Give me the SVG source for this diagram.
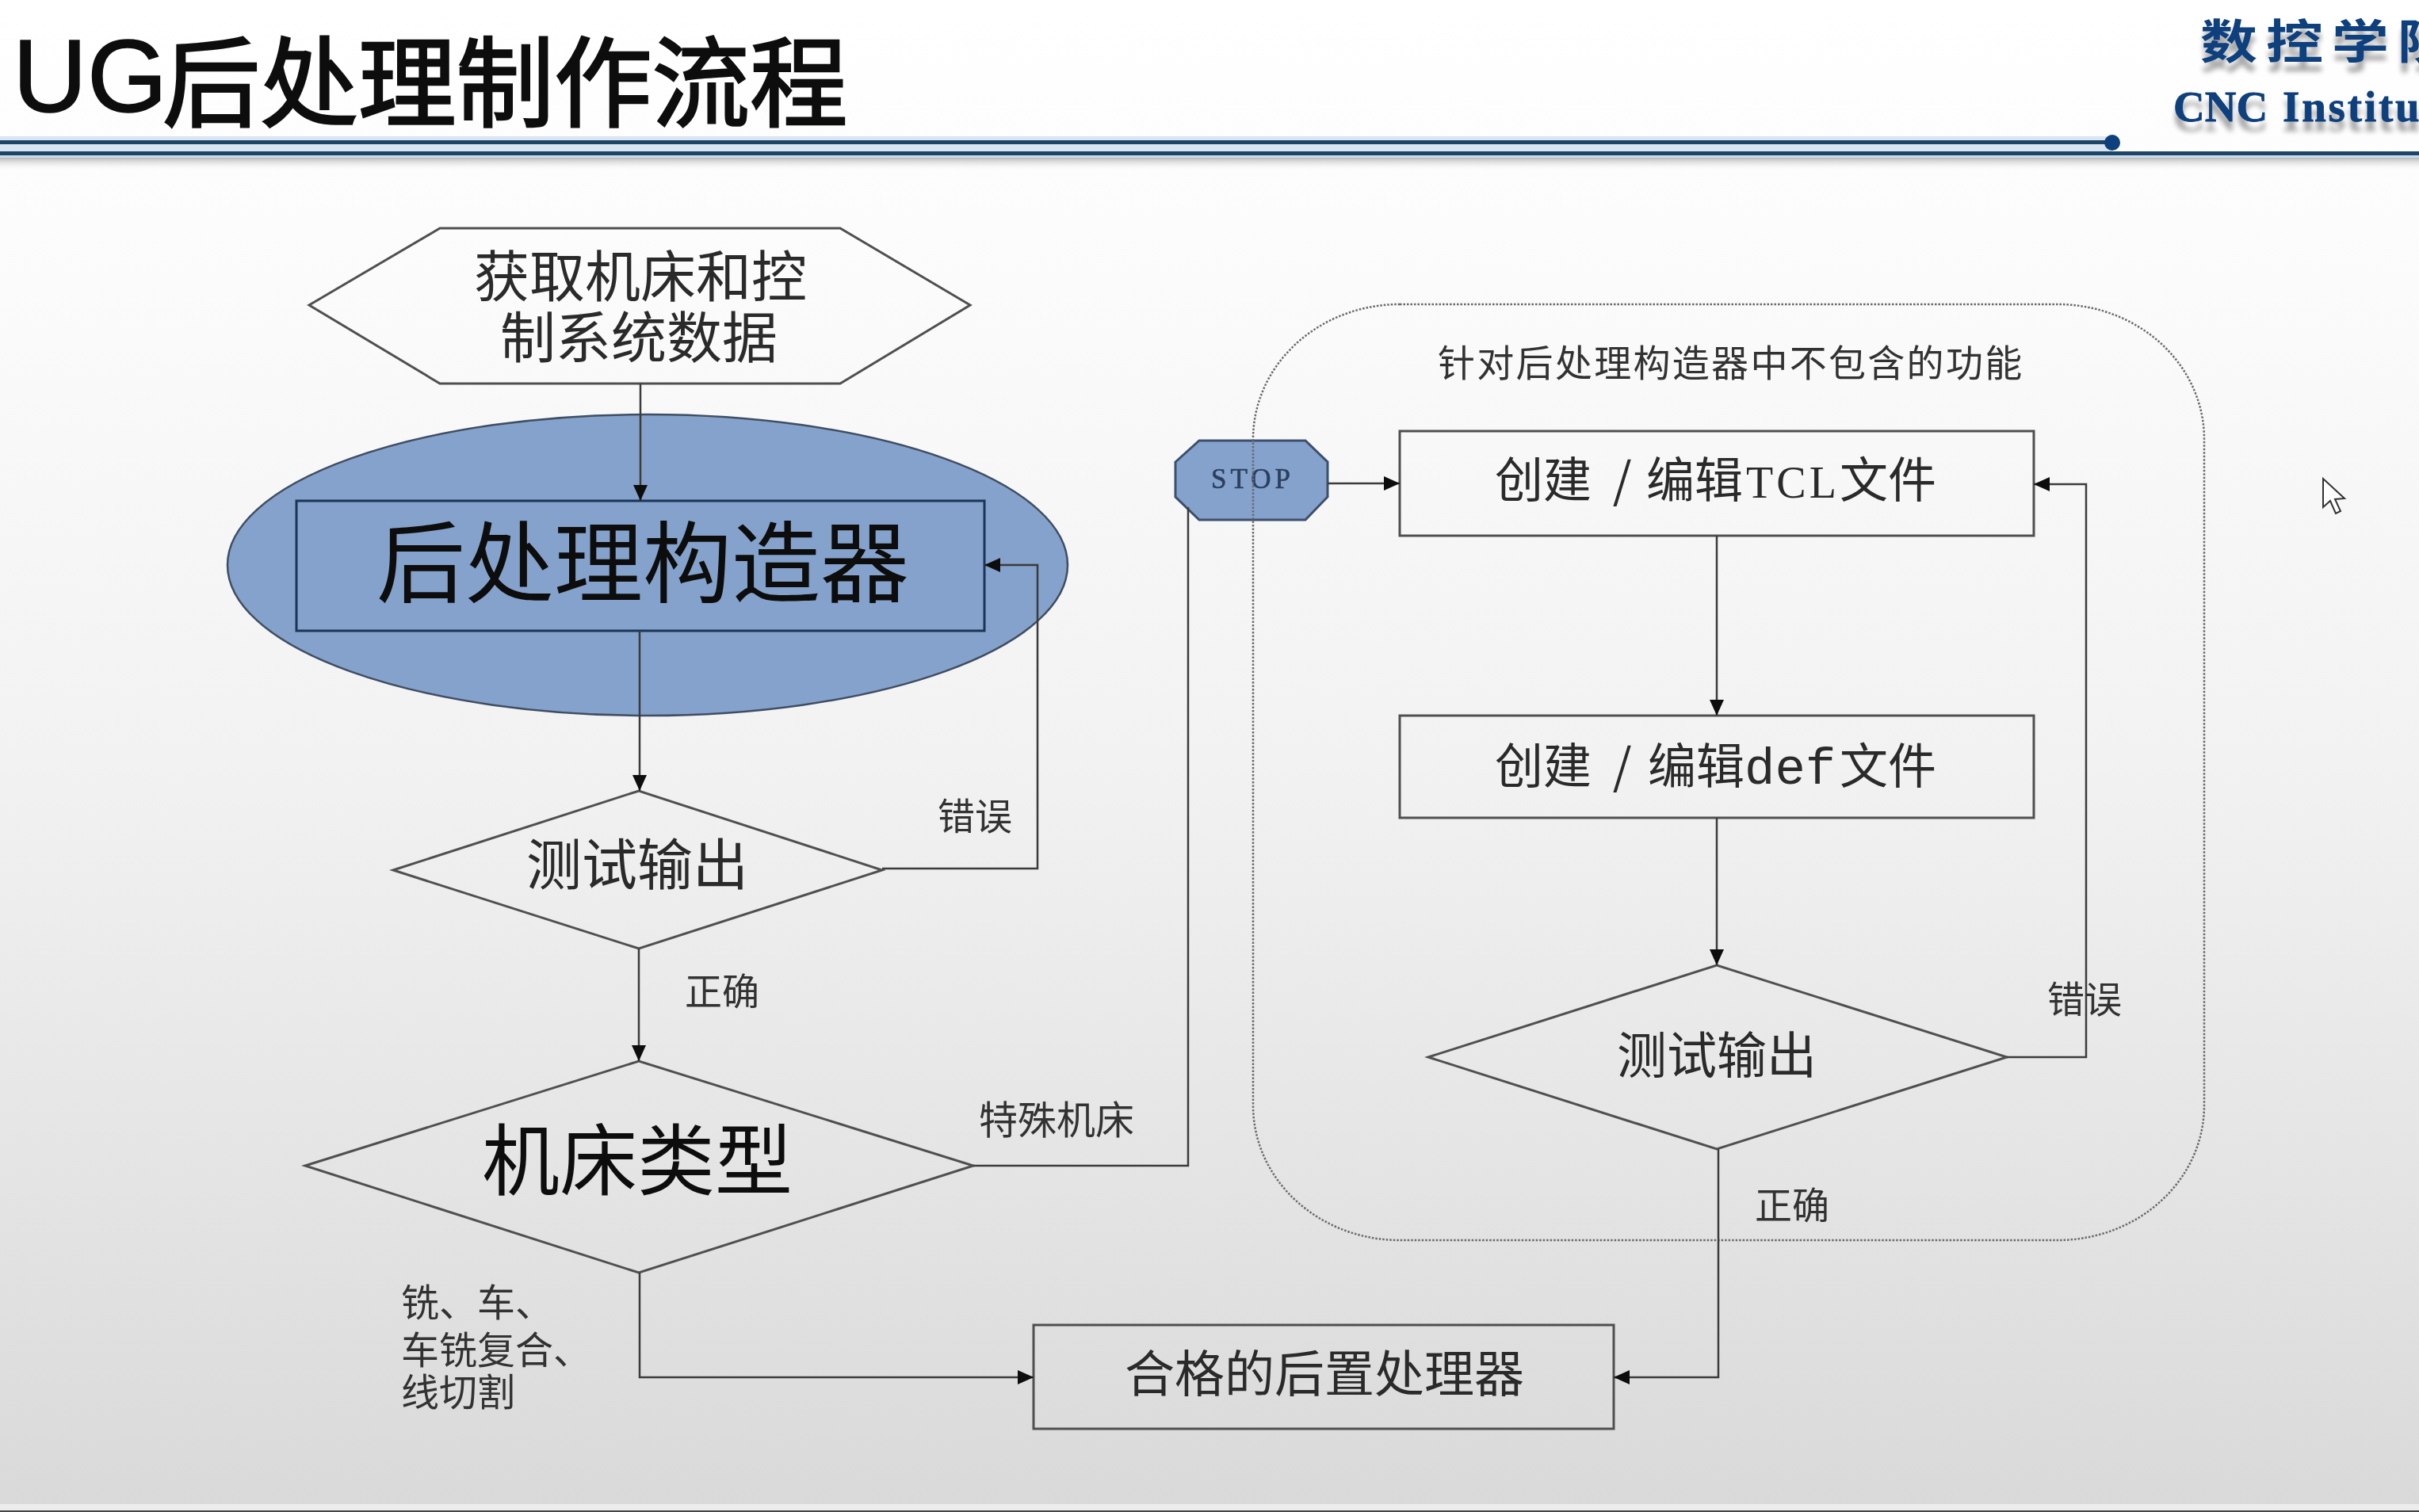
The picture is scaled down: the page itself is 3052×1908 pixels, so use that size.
<svg xmlns="http://www.w3.org/2000/svg" width="3052" height="1908" viewBox="0 0 3052 1908">
<style>
text{font-family:"Noto Sans CJK SC","Liberation Sans",sans-serif;fill:#2b2b2b}
.n{fill:none;stroke:#505050;stroke-width:3}
.m{text-anchor:middle}
.c{fill:none;stroke:#3a3a3a;stroke-width:2.5}
.a{marker-end:url(#arrow)}
.l{font-size:47px;fill:#333}
.s{font-size:48px;fill:#333}
.t{font-family:"Liberation Serif","Noto Sans CJK SC",serif}
.d{font-family:"Liberation Mono","Noto Sans CJK SC",monospace}
</style>
<defs>
<linearGradient id="bg" x1="0" y1="0" x2="0" y2="1"><stop offset="0" stop-color="#ffffff"/><stop offset="0.15" stop-color="#fcfcfc"/><stop offset="0.5" stop-color="#f2f2f2"/><stop offset="1" stop-color="#d9d9d9"/></linearGradient>
<linearGradient id="sh" x1="0" y1="0" x2="0" y2="1"><stop offset="0" stop-color="#b8b8b8"/><stop offset="1" stop-color="#fbfbfb" stop-opacity="0"/></linearGradient>
<marker id="arrow" markerUnits="userSpaceOnUse" markerWidth="22" markerHeight="20" refX="20" refY="10" orient="auto"><path d="M0 1L20 10L0 19Z" fill="#111"/></marker>
<filter id="soft" x="-2%" y="-2%" width="104%" height="104%"><feGaussianBlur stdDeviation="0.7"/></filter>
<filter id="logo" x="-10%" y="-30%" width="120%" height="190%"><feGaussianBlur in="SourceAlpha" stdDeviation="3"/><feOffset dy="12"/><feComponentTransfer><feFuncA type="linear" slope="0.35"/></feComponentTransfer><feMerge><feMergeNode/><feMergeNode in="SourceGraphic"/></feMerge></filter>
</defs>
<rect id="background" width="3052" height="1908" fill="url(#bg)"/>
<rect y="1898" width="3052" height="8" fill="#ececec"/>
<rect y="1906" width="3052" height="2" fill="#444"/>
<g filter="url(#soft)">
<g id="header">
<rect y="172" width="2665" height="26" fill="#d9e6f2"/>
<rect y="194" width="3052" height="5" fill="#c9dbec"/>
<rect y="199" width="3052" height="16" fill="url(#sh)"/>
<rect y="177" width="2665" height="5" fill="#1f4468"/>
<rect y="191" width="3052" height="5" fill="#1f4468"/>
<circle cx="2665" cy="180" r="10" fill="#0f3f7c"/>
<text y="141" font-size="130" style="font-family:'Liberation Sans',sans-serif;fill:#0a0a0a;stroke:#0a0a0a;stroke-width:1.5" x="16">UG<tspan x="205" y="150" font-size="123.5" style="font-family:'Noto Sans CJK SC',sans-serif;stroke-width:2.5">后处理制作流程</tspan></text>
<g filter="url(#logo)">
<text transform="translate(2776 74) scale(1 .82)" font-size="72" letter-spacing="11" style="font-weight:700;fill:#0f3f7c">数控学院</text>
<text x="2742" y="153" font-size="55" style="font-family:'Liberation Serif',serif;font-weight:700;fill:#0f3f7c;stroke:#0f3f7c;stroke-width:.8">CNC <tspan x="2880" letter-spacing="2.8">Institu</tspan></text>
</g>
</g>
<g id="cursor"><path d="M2931 604L2931 640L2940 632L2947 648L2953 645L2946 630L2958 629Z" fill="#fff" stroke="#333" stroke-width="2"/></g>
<g id="n-data"><polygon class="n" points="390,385 555,288 1060,288 1224,385 1060,484 555,484"/><text class="m" x="808" y="375" font-size="70">获取机床和控</text><text class="m" x="806" y="452" font-size="70">制系统数据</text></g>
<g id="n-builder"><ellipse cx="817" cy="713" rx="530" ry="190" fill="#84a2cb" stroke="#3f4e63" stroke-width="2.5"/><rect x="374" y="632" width="868" height="164" fill="none" stroke="#1d3557" stroke-width="3"/><text class="m" x="811" y="752" font-size="112" style="fill:#0a0a0a">后处理构造器</text></g>
<g id="n-test1"><polygon class="n" points="496,1098 806,998 1113,1098 806,1197"/><text class="m" x="804" y="1117" font-size="70">测试输出</text></g>
<g id="n-type"><polygon class="n" points="385,1471 806,1339 1228,1471 806,1606"/><text class="m" x="804" y="1500" font-size="98" style="fill:#111">机床类型</text></g>
<g id="n-stop"><polygon points="1483,583 1513,556 1647,556 1675,583 1675,627 1647,656 1513,656 1483,627" fill="#84a2cb" stroke="#3c4f6c" stroke-width="3"/><text x="1528" y="616" font-size="35" textLength="100" style="font-family:'Liberation Serif',serif;fill:#2a3f60;stroke:#2a3f60;stroke-width:.6">STOP</text></g>
<g id="n-region"><rect x="1581" y="384" width="1200" height="1181" rx="185" ry="170" fill="none" stroke="#6a6a6a" stroke-width="2.5" stroke-dasharray="2.5 2"/><text x="1814" y="475" font-size="47" letter-spacing="2.3" style="fill:#333">针对后处理构造器中不包含的功能</text></g>
<g id="n-tcl"><rect class="n" x="1766" y="544" width="800" height="132"/><text y="628" font-size="61" x="1886">创建<tspan x="2021"> / </tspan><tspan x="2077">编辑</tspan><tspan class="t" x="2203" font-size="56" textLength="114">TCL</tspan><tspan x="2321">文件</tspan></text></g>
<g id="n-def"><rect class="n" x="1766" y="903" width="800" height="129"/><text y="989" font-size="61" x="1886">创建<tspan x="2021"> / </tspan><tspan x="2079">编辑</tspan><tspan class="d" x="2201" font-size="64">def</tspan><tspan x="2321">文件</tspan></text></g>
<g id="n-test2"><polygon class="n" points="1802,1334 2166,1218 2532,1334 2166,1450"/><text class="m" x="2166" y="1354" font-size="63">测试输出</text></g>
<g id="n-post"><rect class="n" x="1304" y="1672" width="732" height="131"/><text class="m" x="1671" y="1756" font-size="63">合格的后置处理器</text></g>
<g id="connectors">
<path class="c a" d="M808 484V632"/>
<path class="c a" d="M807 796V998"/>
<path class="c a" d="M1113 1096H1309V713H1242"/>
<path class="c a" d="M806 1197V1339"/>
<path class="c" d="M1228 1471H1499V640"/>
<path class="c a" d="M1675 610H1766"/>
<path class="c a" d="M2166 676V903"/>
<path class="c a" d="M2166 1032V1218"/>
<path class="c a" d="M2532 1334H2632V611H2566"/>
<path class="c a" d="M2168 1450V1738H2036"/>
<path class="c a" d="M807 1606V1738H1304"/>
</g>
<g id="labels">
<text class="l" x="1183" y="1047">错误</text>
<text class="l" x="864" y="1268">正确</text>
<text class="l" x="1235" y="1431" style="font-size:49px">特殊机床</text>
<text class="l" x="2583" y="1278">错误</text>
<text class="l" x="2214" y="1538">正确</text>
<text class="s" x="506" y="1661">铣、车、</text>
<text class="s" x="506" y="1721">车铣复合、</text>
<text class="s" x="506" y="1774">线切割</text>
</g>
</g>
</svg>
